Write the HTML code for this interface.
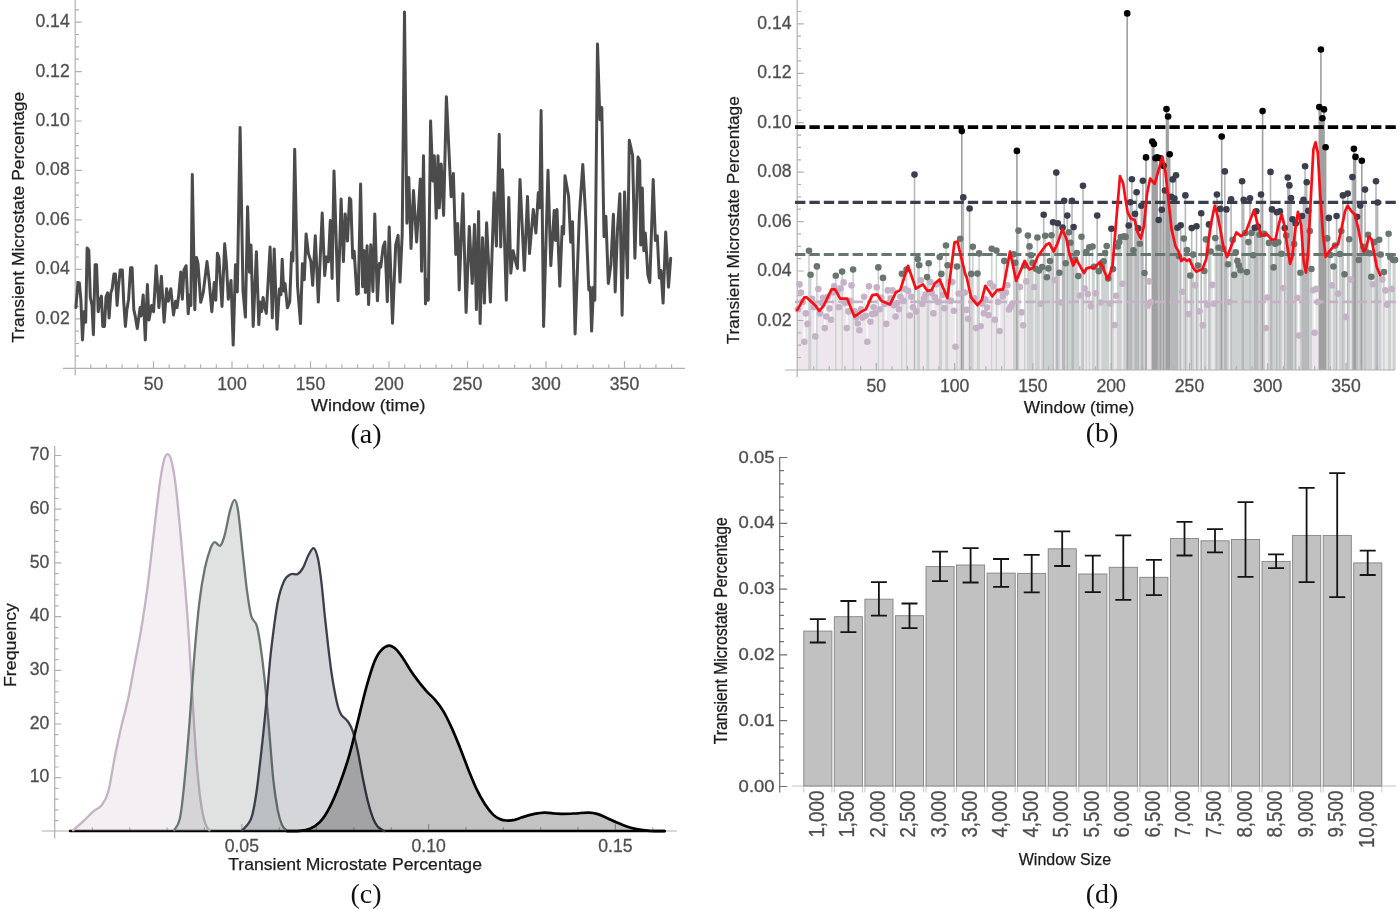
<!DOCTYPE html>
<html lang="en"><head><meta charset="utf-8"><title>Transient Microstate Percentage figure</title>
<style>html,body{margin:0;padding:0;background:#fff}body{width:1400px;height:909px;overflow:hidden}svg{display:block}text{font-family:"Liberation Sans", Arial, Helvetica, sans-serif}.t{fill:#4f4f4f;font-size:17.6px;stroke:#4f4f4f;stroke-width:.3px}.l{fill:#1c1c1c;font-size:17.4px;stroke:#1c1c1c;stroke-width:.25px}.cap{font-family:"Liberation Serif", "Times New Roman", serif;font-size:28px;fill:#111}</style></head><body>
<svg width="1400" height="909" viewBox="0 0 1400 909">
<rect width="1400" height="909" fill="#fff"/>
<g id="panel-a">
<g stroke="#b0b0b0" stroke-width="1.2" fill="none">
<line x1="63" y1="368.3" x2="685" y2="368.3"/>
<line x1="75.2" y1="0" x2="75.2" y2="375.5"/>
<path d="M75.2 355.8h3.8M75.2 343.5h3.8M75.2 331.1h3.8M75.2 318.8h6.5M75.2 306.4h3.8M75.2 294h3.8M75.2 281.7h3.8M75.2 269.3h6.5M75.2 257h3.8M75.2 244.6h3.8M75.2 232.2h3.8M75.2 219.9h6.5M75.2 207.5h3.8M75.2 195.2h3.8M75.2 182.8h3.8M75.2 170.4h6.5M75.2 158.1h3.8M75.2 145.7h3.8M75.2 133.4h3.8M75.2 121h6.5M75.2 108.6h3.8M75.2 96.3h3.8M75.2 83.9h3.8M75.2 71.6h6.5M75.2 59.2h3.8M75.2 46.8h3.8M75.2 34.5h3.8M75.2 22.1h6.5M75.2 9.8h3.8M90.7 368.3v-3.8M106.4 368.3v-3.8M122.1 368.3v-3.8M137.8 368.3v-3.8M153.5 368.3v-7M169.2 368.3v-3.8M184.9 368.3v-3.8M200.6 368.3v-3.8M216.3 368.3v-3.8M232 368.3v-7M247.7 368.3v-3.8M263.4 368.3v-3.8M279.1 368.3v-3.8M294.8 368.3v-3.8M310.5 368.3v-7M326.2 368.3v-3.8M341.9 368.3v-3.8M357.6 368.3v-3.8M373.3 368.3v-3.8M389 368.3v-7M404.7 368.3v-3.8M420.4 368.3v-3.8M436.1 368.3v-3.8M451.8 368.3v-3.8M467.5 368.3v-7M483.2 368.3v-3.8M498.9 368.3v-3.8M514.6 368.3v-3.8M530.3 368.3v-3.8M546 368.3v-7M561.7 368.3v-3.8M577.4 368.3v-3.8M593.1 368.3v-3.8M608.8 368.3v-3.8M624.5 368.3v-7M640.2 368.3v-3.8M655.9 368.3v-3.8M671.6 368.3v-3.8"/>
</g>
<g class="t" text-anchor="end">
<text x="69.7" y="323.8">0.02</text>
<text x="69.7" y="274.3">0.04</text>
<text x="69.7" y="224.9">0.06</text>
<text x="69.7" y="175.4">0.08</text>
<text x="69.7" y="126">0.10</text>
<text x="69.7" y="76.6">0.12</text>
<text x="69.7" y="27.1">0.14</text>
</g>
<g class="t" text-anchor="middle">
<text x="153.5" y="390">50</text>
<text x="232" y="390">100</text>
<text x="310.5" y="390">150</text>
<text x="389" y="390">200</text>
<text x="467.5" y="390">250</text>
<text x="546" y="390">300</text>
<text x="624.5" y="390">350</text>
</g>
<polyline fill="none" stroke="#4b4b4b" stroke-width="3.0" stroke-linejoin="round" stroke-linecap="round" points="75.9,307.6 77.9,282.5 79.4,282.9 80.9,300.2 82.5,340 84,311.7 85.7,322.2 87.1,248 88.8,250.1 90.3,297.1 92,305.5 93.4,334.7 95.1,264.7 96.6,264.7 98.2,311.7 99.7,301.3 101.4,296.1 102.8,326.4 104.5,326.4 106,297.1 107.6,292.9 109.1,318 110.8,292.9 112.2,288.7 113.9,274.1 115.4,274.1 117.1,305.5 118.5,286.6 120.2,269.9 122.3,269.9 123.7,301.3 125.4,326.4 126.9,309.7 128.6,299.2 130.6,267.8 132.1,267.8 133.8,309.7 135.2,315.9 137.3,328.5 140.1,307.6 141.1,315.9 143.2,295 145.3,340 147.4,284.6 149,320.1 151.6,305.5 153.6,311.7 156.2,265.7 158.9,307.6 161.4,276.2 164.1,322.2 166.6,288.7 168.3,301.3 170.8,288.7 173.5,314.9 175.6,301.3 177.1,307.6 178.7,295 180.8,272 182.3,299.2 184,269.9 186.1,265.7 188.2,313.8 189.6,295 190.9,305.5 192.3,174.6 194.8,309.7 196.5,257.4 198,263.6 200.7,302.3 203.2,292.9 207,261.6 209.1,280.4 211.8,311.7 214.3,282.5 215.8,300.2 217.4,253.2 218.9,257.4 222,306.5 224.7,243.8 226.4,263.6 228.3,299.2 231,280.4 233.2,345.1 235.5,264.8 237.3,291.9 240.1,127.4 243,290.9 245.4,317.1 247.6,206.8 249.5,272.2 251,245.1 253.2,326.4 256.4,251.7 258.8,324.6 260.1,302.1 261.6,311.5 263.1,297.5 264.4,305.9 266.3,313.4 270.1,247 272.3,318 274.2,248.9 277,329.3 279.4,289.1 280.9,294.7 282.2,259.2 283.7,290.9 285,283.5 287.4,307.8 289.7,302.1 291.6,252.6 292.9,261 294.7,149.3 297.5,285.3 300.5,323.6 302.4,263.8 304.3,279.7 306.1,233.9 308.4,253.6 310.8,261 312.7,285.3 315.3,235.8 318.3,302.1 322.2,213 324.7,275.6 326.5,256.9 328.4,261.6 330.3,220.5 332.1,278.4 334,170.9 338.1,300.8 341.1,199 343.4,261.6 345.2,213.9 347.5,241 349.5,198 350.8,199.9 352.7,257.9 354.2,251.3 356.8,294.3 358.3,293.4 360.6,184 362.6,286.8 363.9,250.4 365.4,292.4 367.1,245.7 368.6,304.6 370.8,244.8 372.9,291.5 374.8,213.9 377.4,300.8 379.4,263.5 380.7,267.2 383.2,246.6 384.9,242 387.3,301.8 389.2,227 392.5,323.3 395.7,244.8 398.1,235.4 400,282.1 402.2,234.5 404.5,12.1 406.9,223.3 408.8,177.5 411,248.5 413.5,190.6 416.6,242 420.3,179.1 421.6,271.3 423.5,155.7 425.5,304 426.8,279.7 428.3,300.3 430.6,121.1 432.8,180.9 434.3,155.7 436.2,218.3 438,155.7 439.3,208 441.2,164.1 443.6,215.5 446.4,96.8 451.1,196.8 453.4,173.5 455.8,254.5 457.7,223.6 459.2,290 462.9,193.7 466.1,312.4 469.3,226.4 472.2,283.5 474.5,224.6 476.4,309.6 478.6,211.5 480.1,323.6 482.5,237.7 484.4,303.1 486.6,222.7 490.4,302.1 494.1,192.8 496.4,246.1 499.2,134.2 500.7,247 502.5,169.7 506.3,300.3 508.8,197.5 510.8,273.2 513.1,250.7 515,259.2 517.4,268.5 520,179.5 524.3,270.4 527.5,196.5 529.5,253.6 533.3,209.6 535.9,233 538.3,192.8 539.8,207.8 541.1,110.4 543.6,326.4 548,170.2 550.8,265.7 554.2,210.6 555.5,240.5 557,209.6 559.8,286.3 562.2,226.4 563.6,233.9 565,175.8 568.6,196.4 570.7,242.3 572.5,221.8 575.1,333.9 579.4,214.3 582.8,164.6 586.4,229.3 588.8,290 590.3,287.2 591.6,331.1 593.5,287.2 594.8,300.3 597.5,44 599.9,119.7 601.8,107.6 604,236.7 605.9,216.2 608.3,283.5 610.9,264.8 613.4,214.3 615.2,291.9 617.5,229.3 619.9,193.7 622.1,315.2 624.6,191.9 627.4,277.9 629.3,140.3 632.6,155.2 634.9,258.2 638,157.1 639.7,160.8 640.7,245.1 642.3,187.9 643.8,250.7 645.3,233 647.9,275 649.8,282.5 653.2,179.5 655.4,240.5 657.3,235.8 659.3,277.9 661,270.4 663.1,303.1 665.7,232.1 668.5,287.2 670.7,258.2"/>
<text class="l" text-anchor="middle" transform="translate(23.8 217.3) rotate(-90)" textLength="251" lengthAdjust="spacingAndGlyphs">Transient Microstate Percentage</text>
<text class="l" text-anchor="middle" x="368.2" y="411.1" textLength="114.3" lengthAdjust="spacingAndGlyphs">Window (time)</text>
<text class="cap" text-anchor="middle" x="366" y="442.6">(a)</text>
</g>
<g id="panel-b">
<path d="M798 369.9V309.3M799.5 369.9V284.4M801.1 369.9V292.6M802.7 369.9V301.9M804.3 369.9V341.7M805.9 369.9V313.4M807.4 369.9V323.9M812.1 369.9V298.8M813.7 369.9V307.2M815.3 369.9V336.4M818.4 369.9V289M820 369.9V313.4M821.6 369.9V303M823.2 369.9V297.8M824.8 369.9V328.1M826.3 369.9V316.5M827.9 369.9V296.7M829.5 369.9V308.4M831 369.9V319.7M832.6 369.9V292.5M834.2 369.9V286.3M837.4 369.9V291.1M838.9 369.9V307.2M840.5 369.9V288.3M843.6 369.9V282.4M845.2 369.9V303M846.8 369.9V328.1M848.4 369.9V311.4M849.9 369.9V300.9M851.5 369.9V285.4M854.7 369.9V311.4M856.2 369.9V317.6M857.8 369.9V323.5M859.4 369.9V330.2M861 369.9V309.3M862.5 369.9V317.6M864.1 369.9V296.7M865.7 369.9V315.8M867.3 369.9V341.7M868.9 369.9V286.3M870.4 369.9V321.8M872 369.9V314.1M873.6 369.9V307.2M875.1 369.9V313.4M876.7 369.9V287.4M879.9 369.9V309.3M881.4 369.9V297.9M884.6 369.9V303.9M886.2 369.9V323.9M887.8 369.9V290.4M889.3 369.9V303M890.9 369.9V298.4M892.5 369.9V290.4M894 369.9V305.3M895.6 369.9V316.6M897.2 369.9V303M898.8 369.9V309.3M900.4 369.9V296.7M903.5 369.9V300.9M905.1 369.9V289M908.2 369.9V290.9M909.8 369.9V315.5M911.4 369.9V296.7M912.9 369.9V307.2M916.1 369.9V311.4M920.8 369.9V280.3M922.4 369.9V304M924 369.9V298.5M925.5 369.9V294.6M930.3 369.9V282.1M931.8 369.9V293.1M933.4 369.9V313.4M935 369.9V297.4M936.6 369.9V284.2M938.1 369.9V301.9M942.9 369.9V294.7M944.4 369.9V308.2M949.2 369.9V281.8M950.8 369.9V300.9M952.3 369.9V282.1M953.9 369.9V310.7M955.5 369.9V346.8M958.6 369.9V293.6M964.9 369.9V292.6M966.5 369.9V309.9M968.1 369.9V318.8M974.4 369.9V298.3M975.9 369.9V328.1M980.7 369.9V326.3M982.2 369.9V303.8M983.8 369.9V313.2M985.4 369.9V299.2M987 369.9V307.6M988.5 369.9V315.1M990.1 369.9V283.3M993.3 369.9V286.5M994.8 369.9V319.7M998 369.9V301.9M999.6 369.9V331M1001.1 369.9V290.8M1002.7 369.9V296.4M1005.9 369.9V292.6M1007.4 369.9V285.2M1009 369.9V309.5M1010.6 369.9V306.8M1012.2 369.9V303.8M1020 369.9V287M1021.6 369.9V312.4M1023.2 369.9V325.3M1026.3 369.9V281.4M1034.2 369.9V287M1040.5 369.9V303.8M1054.7 369.9V280.1M1061 369.9V302.5M1079.9 369.9V295.5M1084.6 369.9V288.5M1087.8 369.9V294.1M1090.9 369.9V306.3M1095.7 369.9V293.2M1100.4 369.9V302.5M1109.8 369.9V303.5M1114.5 369.9V325M1116.1 369.9V295.7M1122.4 369.9V283.8M1147.6 369.9V305.7M1149.2 369.9V281.4M1150.8 369.9V302M1182.3 369.9V291.7M1188.6 369.9V314.1M1194.9 369.9V285.2M1199.6 369.9V311.3M1202.8 369.9V325.3M1207.5 369.9V304.8M1212.2 369.9V284.9M1213.8 369.9V303.8M1229.5 369.9V302M1265.8 369.9V328.1M1267.3 369.9V297.5M1283.1 369.9V288M1297.2 369.9V297.9M1298.8 369.9V335.6M1313 369.9V290.3M1314.6 369.9V332.8M1316.2 369.9V288.9M1317.7 369.9V302M1331.9 369.9V285.2M1338.2 369.9V293.6M1346.1 369.9V316.9M1350.8 369.9V279.6M1372.8 369.9V284.2M1382.3 369.9V279.6M1385.4 369.9V290.4M1387 369.9V304.8M1391.8 369.9V288.9" stroke="#ede6ed" stroke-width="1.62" fill="none"/>
<path d="M809 369.9V250.7M810.6 369.9V274.7M816.9 369.9V266.4M835.8 369.9V275.8M842.1 369.9V271.6M853.1 369.9V269.5M878.3 369.9V267.4M883 369.9V277.9M901.9 369.9V273.7M906.6 369.9V269.5M917.7 369.9V259.1M919.2 369.9V265.3M927.1 369.9V277.1M928.7 369.9V263.3M939.7 369.9V257M941.3 369.9V273.9M946 369.9V245.5M947.6 369.9V265.3M957 369.9V266.5M960.2 369.9V238.8M971.2 369.9V273.9M972.8 369.9V246.8M977.5 369.9V273.6M979.1 369.9V253.4M991.7 369.9V248.7M996.4 369.9V250.6M1004.3 369.9V260.9M1013.8 369.9V254.3M1015.3 369.9V262.7M1018.5 369.9V230.6M1024.8 369.9V265.5M1027.9 369.9V235.6M1029.5 369.9V246.4M1031.1 369.9V255.3M1032.7 369.9V262.7M1035.8 369.9V268.7M1037.4 369.9V237.5M1039 369.9V270.6M1042.1 369.9V267M1045.2 369.9V235.7M1046.8 369.9V277.3M1048.4 369.9V268.4M1050 369.9V261M1051.5 369.9V235.2M1059.4 369.9V272.8M1065.7 369.9V263.3M1068.9 369.9V232.3M1070.5 369.9V242.7M1075.2 369.9V259.6M1076.8 369.9V253M1078.3 369.9V276.1M1081.5 369.9V236.8M1086.2 369.9V252.1M1089.3 369.9V247.4M1092.5 369.9V246.5M1094.1 369.9V266.7M1098.8 369.9V271.2M1102 369.9V267M1103.5 369.9V261.4M1105.1 369.9V253M1106.7 369.9V246M1108.2 369.9V278.4M1113 369.9V269.1M1117.7 369.9V246.5M1119.3 369.9V242M1120.8 369.9V237.1M1124 369.9V236.2M1125.6 369.9V236.9M1133.5 369.9V250.2M1139.8 369.9V243.7M1144.5 369.9V273M1179.1 369.9V256.2M1183.8 369.9V238.6M1187 369.9V250.1M1190.2 369.9V275.6M1193.3 369.9V254.6M1198 369.9V265.6M1204.3 369.9V271M1205.9 369.9V239.4M1210.6 369.9V251.5M1215.3 369.9V238.1M1218.5 369.9V247.8M1223.2 369.9V248.7M1228 369.9V264.2M1232.7 369.9V239.9M1234.2 369.9V274.9M1235.8 369.9V252.4M1237.4 369.9V260.9M1239 369.9V265.5M1240.5 369.9V270.2M1245.3 369.9V233M1246.8 369.9V272.1M1248.4 369.9V242.1M1251.6 369.9V233M1253.2 369.9V255.3M1259.5 369.9V234.7M1264.2 369.9V233.9M1268.9 369.9V242.9M1273.6 369.9V267.4M1275.2 369.9V243.8M1278.3 369.9V242.2M1281.5 369.9V253.7M1286.2 369.9V235.6M1294.1 369.9V244M1300.4 369.9V272.7M1309.8 369.9V231M1311.4 369.9V269M1327.2 369.9V238.4M1330.3 369.9V255M1333.5 369.9V266.5M1335 369.9V245.6M1339.8 369.9V254M1341.3 369.9V231M1344.5 369.9V274.2M1349.2 369.9V239.3M1358.7 369.9V259.9M1363.4 369.9V246.8M1366.5 369.9V252.4M1368.1 369.9V234.7M1369.7 369.9V253.2M1371.3 369.9V276.7M1374.4 369.9V242.1M1379.2 369.9V239.8M1380.7 369.9V254.6M1383.9 369.9V272.1M1388.6 369.9V233.8M1390.2 369.9V257.1M1393.3 369.9V259.9M1394.9 369.9V259.9" stroke="#ccd2cf" stroke-width="1.62" fill="none"/>
<path d="M914.5 369.9V174.6M963.3 369.9V197.4M969.6 369.9V208.5M1043.7 369.9V214.7M1053.1 369.9V222.2M1056.3 369.9V172.6M1057.8 369.9V223.2M1062.6 369.9V227.6M1064.2 369.9V200.7M1067.3 369.9V215.6M1072 369.9V200.7M1073.6 369.9V227.1M1083 369.9V185.7M1097.2 369.9V215.6M1111.4 369.9V228.7M1128.7 369.9V225.5M1130.3 369.9V202.3M1131.9 369.9V179.2M1135 369.9V213.9M1136.6 369.9V192.3M1138.2 369.9V228.4M1141.3 369.9V205.8M1142.9 369.9V180.8M1158.7 369.9V220M1161.8 369.9V209.7M1165 369.9V190.5M1171.2 369.9V196.9M1172.8 369.9V179.4M1174.4 369.9V198.5M1176 369.9V175.2M1177.5 369.9V227.7M1180.7 369.9V225.3M1185.4 369.9V195.4M1191.7 369.9V228.1M1196.5 369.9V226.3M1201.2 369.9V213.2M1209 369.9V224.4M1216.9 369.9V194.5M1220.1 369.9V208.9M1224.8 369.9V171.4M1226.4 369.9V209.4M1231.1 369.9V199.2M1242.1 369.9V181.2M1243.7 369.9V199.8M1250 369.9V198.2M1254.7 369.9V227.8M1256.3 369.9V211.3M1257.9 369.9V226.9M1261 369.9V194.5M1270.5 369.9V171.9M1272 369.9V209.4M1276.8 369.9V212.3M1279.9 369.9V211.3M1284.7 369.9V228.1M1287.8 369.9V177.5M1289.4 369.9V185.4M1291 369.9V198.1M1292.5 369.9V219.3M1295.7 369.9V223.5M1302 369.9V216M1303.5 369.9V199.7M1305.1 369.9V166.3M1306.7 369.9V182.2M1308.3 369.9V210.8M1328.8 369.9V217.9M1336.6 369.9V216M1342.9 369.9V195.4M1347.7 369.9V193.6M1352.4 369.9V177.1M1357.1 369.9V216.8M1360.2 369.9V205.6M1365 369.9V189.6M1376 369.9V181.2M1377.6 369.9V202.5" stroke="#b7b8bc" stroke-width="1.62" fill="none"/>
<path d="M961.8 369.9V131.1M1016.9 369.9V150.9M1127.2 369.9V13.4M1146 369.9V157.4M1152.3 369.9V141.5M1153.9 369.9V144M1155.5 369.9V158.3M1157.1 369.9V157.4M1160.2 369.9V158.3M1163.4 369.9V165.8M1166.5 369.9V109.1M1168.1 369.9V116.5M1169.7 369.9V154.3M1221.7 369.9V136.5M1262.6 369.9V111.1M1319.3 369.9V107.1M1320.9 369.9V49.5M1322.4 369.9V118.3M1324 369.9V109.4M1325.6 369.9V147.2M1353.9 369.9V148.8M1355.5 369.9V156.9M1361.8 369.9V160.7" stroke="#a0a0a0" stroke-width="1.62" fill="none"/>
<g stroke="#b0b0b0" stroke-width="1.2" fill="none">
<line x1="785" y1="370" x2="1395" y2="370"/>
<line x1="797.2" y1="0" x2="797.2" y2="377"/>
<path d="M797.2 357.5h3.8M797.2 345.2h3.8M797.2 332.8h3.8M797.2 320.5h6.5M797.2 308.1h3.8M797.2 295.7h3.8M797.2 283.4h3.8M797.2 271h6.5M797.2 258.7h3.8M797.2 246.3h3.8M797.2 233.9h3.8M797.2 221.6h6.5M797.2 209.2h3.8M797.2 196.9h3.8M797.2 184.5h3.8M797.2 172.1h6.5M797.2 159.8h3.8M797.2 147.4h3.8M797.2 135.1h3.8M797.2 122.7h6.5M797.2 110.3h3.8M797.2 98h3.8M797.2 85.6h3.8M797.2 73.3h6.5M797.2 60.9h3.8M797.2 48.5h3.8M797.2 36.2h3.8M797.2 23.8h6.5M797.2 11.5h3.8M813.7 370v-3.8M829.3 370v-3.8M845 370v-3.8M860.6 370v-3.8M876.3 370v-7M891.9 370v-3.8M907.6 370v-3.8M923.3 370v-3.8M938.9 370v-3.8M954.6 370v-7M970.2 370v-3.8M985.9 370v-3.8M1001.6 370v-3.8M1017.2 370v-3.8M1032.9 370v-7M1048.5 370v-3.8M1064.2 370v-3.8M1079.8 370v-3.8M1095.5 370v-3.8M1111.2 370v-7M1126.8 370v-3.8M1142.5 370v-3.8M1158.1 370v-3.8M1173.8 370v-3.8M1189.5 370v-7M1205.1 370v-3.8M1220.8 370v-3.8M1236.4 370v-3.8M1252.1 370v-3.8M1267.7 370v-7M1283.4 370v-3.8M1299.1 370v-3.8M1314.7 370v-3.8M1330.4 370v-3.8M1346 370v-7M1361.7 370v-3.8M1377.3 370v-3.8"/>
</g>
<g class="t" text-anchor="end">
<text x="791.5" y="325.5">0.02</text>
<text x="791.5" y="276">0.04</text>
<text x="791.5" y="226.6">0.06</text>
<text x="791.5" y="177.1">0.08</text>
<text x="791.5" y="127.7">0.10</text>
<text x="791.5" y="78.3">0.12</text>
<text x="791.5" y="28.8">0.14</text>
</g>
<g class="t" text-anchor="middle">
<text x="876.3" y="391.5">50</text>
<text x="954.6" y="391.5">100</text>
<text x="1032.9" y="391.5">150</text>
<text x="1111.2" y="391.5">200</text>
<text x="1189.5" y="391.5">250</text>
<text x="1267.7" y="391.5">300</text>
<text x="1346" y="391.5">350</text>
</g>
<line x1="795" y1="301.9" x2="1396" y2="301.9" stroke="#c5b2c6" stroke-width="2.8" stroke-dasharray="10.4 4"/>
<line x1="795" y1="254.5" x2="1396" y2="254.5" stroke="#69766f" stroke-width="3.0" stroke-dasharray="10.4 4"/>
<line x1="795" y1="202.3" x2="1396" y2="202.3" stroke="#3b3f4d" stroke-width="3.2" stroke-dasharray="10.4 4"/>
<line x1="795" y1="127.1" x2="1396" y2="127.1" stroke="#000000" stroke-width="3.9" stroke-dasharray="10.4 4"/>
<g fill="#c5b2c6"><circle cx="798" cy="309.3" r="3.3"/><circle cx="799.5" cy="284.4" r="3.3"/><circle cx="801.1" cy="292.6" r="3.3"/><circle cx="802.7" cy="301.9" r="3.3"/><circle cx="804.3" cy="341.7" r="3.3"/><circle cx="805.9" cy="313.4" r="3.3"/><circle cx="807.4" cy="323.9" r="3.3"/><circle cx="812.1" cy="298.8" r="3.3"/><circle cx="813.7" cy="307.2" r="3.3"/><circle cx="815.3" cy="336.4" r="3.3"/><circle cx="818.4" cy="289" r="3.3"/><circle cx="820" cy="313.4" r="3.3"/><circle cx="821.6" cy="303" r="3.3"/><circle cx="823.2" cy="297.8" r="3.3"/><circle cx="824.8" cy="328.1" r="3.3"/><circle cx="826.3" cy="316.5" r="3.3"/><circle cx="827.9" cy="296.7" r="3.3"/><circle cx="829.5" cy="308.4" r="3.3"/><circle cx="831" cy="319.7" r="3.3"/><circle cx="832.6" cy="292.5" r="3.3"/><circle cx="834.2" cy="286.3" r="3.3"/><circle cx="837.4" cy="291.1" r="3.3"/><circle cx="838.9" cy="307.2" r="3.3"/><circle cx="840.5" cy="288.3" r="3.3"/><circle cx="843.6" cy="282.4" r="3.3"/><circle cx="845.2" cy="303" r="3.3"/><circle cx="846.8" cy="328.1" r="3.3"/><circle cx="848.4" cy="311.4" r="3.3"/><circle cx="849.9" cy="300.9" r="3.3"/><circle cx="851.5" cy="285.4" r="3.3"/><circle cx="854.7" cy="311.4" r="3.3"/><circle cx="856.2" cy="317.6" r="3.3"/><circle cx="857.8" cy="323.5" r="3.3"/><circle cx="859.4" cy="330.2" r="3.3"/><circle cx="861" cy="309.3" r="3.3"/><circle cx="862.5" cy="317.6" r="3.3"/><circle cx="864.1" cy="296.7" r="3.3"/><circle cx="865.7" cy="315.8" r="3.3"/><circle cx="867.3" cy="341.7" r="3.3"/><circle cx="868.9" cy="286.3" r="3.3"/><circle cx="870.4" cy="321.8" r="3.3"/><circle cx="872" cy="314.1" r="3.3"/><circle cx="873.6" cy="307.2" r="3.3"/><circle cx="875.1" cy="313.4" r="3.3"/><circle cx="876.7" cy="287.4" r="3.3"/><circle cx="879.9" cy="309.3" r="3.3"/><circle cx="881.4" cy="297.9" r="3.3"/><circle cx="884.6" cy="303.9" r="3.3"/><circle cx="886.2" cy="323.9" r="3.3"/><circle cx="887.8" cy="290.4" r="3.3"/><circle cx="889.3" cy="303" r="3.3"/><circle cx="890.9" cy="298.4" r="3.3"/><circle cx="892.5" cy="290.4" r="3.3"/><circle cx="894" cy="305.3" r="3.3"/><circle cx="895.6" cy="316.6" r="3.3"/><circle cx="897.2" cy="303" r="3.3"/><circle cx="898.8" cy="309.3" r="3.3"/><circle cx="900.4" cy="296.7" r="3.3"/><circle cx="903.5" cy="300.9" r="3.3"/><circle cx="905.1" cy="289" r="3.3"/><circle cx="908.2" cy="290.9" r="3.3"/><circle cx="909.8" cy="315.5" r="3.3"/><circle cx="911.4" cy="296.7" r="3.3"/><circle cx="912.9" cy="307.2" r="3.3"/><circle cx="916.1" cy="311.4" r="3.3"/><circle cx="920.8" cy="280.3" r="3.3"/><circle cx="922.4" cy="304" r="3.3"/><circle cx="924" cy="298.5" r="3.3"/><circle cx="925.5" cy="294.6" r="3.3"/><circle cx="930.3" cy="282.1" r="3.3"/><circle cx="931.8" cy="293.1" r="3.3"/><circle cx="933.4" cy="313.4" r="3.3"/><circle cx="935" cy="297.4" r="3.3"/><circle cx="936.6" cy="284.2" r="3.3"/><circle cx="938.1" cy="301.9" r="3.3"/><circle cx="942.9" cy="294.7" r="3.3"/><circle cx="944.4" cy="308.2" r="3.3"/><circle cx="949.2" cy="281.8" r="3.3"/><circle cx="950.8" cy="300.9" r="3.3"/><circle cx="952.3" cy="282.1" r="3.3"/><circle cx="953.9" cy="310.7" r="3.3"/><circle cx="955.5" cy="346.8" r="3.3"/><circle cx="958.6" cy="293.6" r="3.3"/><circle cx="964.9" cy="292.6" r="3.3"/><circle cx="966.5" cy="309.9" r="3.3"/><circle cx="968.1" cy="318.8" r="3.3"/><circle cx="974.4" cy="298.3" r="3.3"/><circle cx="975.9" cy="328.1" r="3.3"/><circle cx="980.7" cy="326.3" r="3.3"/><circle cx="982.2" cy="303.8" r="3.3"/><circle cx="983.8" cy="313.2" r="3.3"/><circle cx="985.4" cy="299.2" r="3.3"/><circle cx="987" cy="307.6" r="3.3"/><circle cx="988.5" cy="315.1" r="3.3"/><circle cx="990.1" cy="283.3" r="3.3"/><circle cx="993.3" cy="286.5" r="3.3"/><circle cx="994.8" cy="319.7" r="3.3"/><circle cx="998" cy="301.9" r="3.3"/><circle cx="999.6" cy="331" r="3.3"/><circle cx="1001.1" cy="290.8" r="3.3"/><circle cx="1002.7" cy="296.4" r="3.3"/><circle cx="1005.9" cy="292.6" r="3.3"/><circle cx="1007.4" cy="285.2" r="3.3"/><circle cx="1009" cy="309.5" r="3.3"/><circle cx="1010.6" cy="306.8" r="3.3"/><circle cx="1012.2" cy="303.8" r="3.3"/><circle cx="1020" cy="287" r="3.3"/><circle cx="1021.6" cy="312.4" r="3.3"/><circle cx="1023.2" cy="325.3" r="3.3"/><circle cx="1026.3" cy="281.4" r="3.3"/><circle cx="1034.2" cy="287" r="3.3"/><circle cx="1040.5" cy="303.8" r="3.3"/><circle cx="1054.7" cy="280.1" r="3.3"/><circle cx="1061" cy="302.5" r="3.3"/><circle cx="1079.9" cy="295.5" r="3.3"/><circle cx="1084.6" cy="288.5" r="3.3"/><circle cx="1087.8" cy="294.1" r="3.3"/><circle cx="1090.9" cy="306.3" r="3.3"/><circle cx="1095.7" cy="293.2" r="3.3"/><circle cx="1100.4" cy="302.5" r="3.3"/><circle cx="1109.8" cy="303.5" r="3.3"/><circle cx="1114.5" cy="325" r="3.3"/><circle cx="1116.1" cy="295.7" r="3.3"/><circle cx="1122.4" cy="283.8" r="3.3"/><circle cx="1147.6" cy="305.7" r="3.3"/><circle cx="1149.2" cy="281.4" r="3.3"/><circle cx="1150.8" cy="302" r="3.3"/><circle cx="1182.3" cy="291.7" r="3.3"/><circle cx="1188.6" cy="314.1" r="3.3"/><circle cx="1194.9" cy="285.2" r="3.3"/><circle cx="1199.6" cy="311.3" r="3.3"/><circle cx="1202.8" cy="325.3" r="3.3"/><circle cx="1207.5" cy="304.8" r="3.3"/><circle cx="1212.2" cy="284.9" r="3.3"/><circle cx="1213.8" cy="303.8" r="3.3"/><circle cx="1229.5" cy="302" r="3.3"/><circle cx="1265.8" cy="328.1" r="3.3"/><circle cx="1267.3" cy="297.5" r="3.3"/><circle cx="1283.1" cy="288" r="3.3"/><circle cx="1297.2" cy="297.9" r="3.3"/><circle cx="1298.8" cy="335.6" r="3.3"/><circle cx="1313" cy="290.3" r="3.3"/><circle cx="1314.6" cy="332.8" r="3.3"/><circle cx="1316.2" cy="288.9" r="3.3"/><circle cx="1317.7" cy="302" r="3.3"/><circle cx="1331.9" cy="285.2" r="3.3"/><circle cx="1338.2" cy="293.6" r="3.3"/><circle cx="1346.1" cy="316.9" r="3.3"/><circle cx="1350.8" cy="279.6" r="3.3"/><circle cx="1372.8" cy="284.2" r="3.3"/><circle cx="1382.3" cy="279.6" r="3.3"/><circle cx="1385.4" cy="290.4" r="3.3"/><circle cx="1387" cy="304.8" r="3.3"/><circle cx="1391.8" cy="288.9" r="3.3"/></g>
<g fill="#69766f"><circle cx="809" cy="250.7" r="3.3"/><circle cx="810.6" cy="274.7" r="3.3"/><circle cx="816.9" cy="266.4" r="3.3"/><circle cx="835.8" cy="275.8" r="3.3"/><circle cx="842.1" cy="271.6" r="3.3"/><circle cx="853.1" cy="269.5" r="3.3"/><circle cx="878.3" cy="267.4" r="3.3"/><circle cx="883" cy="277.9" r="3.3"/><circle cx="901.9" cy="273.7" r="3.3"/><circle cx="906.6" cy="269.5" r="3.3"/><circle cx="917.7" cy="259.1" r="3.3"/><circle cx="919.2" cy="265.3" r="3.3"/><circle cx="927.1" cy="277.1" r="3.3"/><circle cx="928.7" cy="263.3" r="3.3"/><circle cx="939.7" cy="257" r="3.3"/><circle cx="941.3" cy="273.9" r="3.3"/><circle cx="946" cy="245.5" r="3.3"/><circle cx="947.6" cy="265.3" r="3.3"/><circle cx="957" cy="266.5" r="3.3"/><circle cx="960.2" cy="238.8" r="3.3"/><circle cx="971.2" cy="273.9" r="3.3"/><circle cx="972.8" cy="246.8" r="3.3"/><circle cx="977.5" cy="273.6" r="3.3"/><circle cx="979.1" cy="253.4" r="3.3"/><circle cx="991.7" cy="248.7" r="3.3"/><circle cx="996.4" cy="250.6" r="3.3"/><circle cx="1004.3" cy="260.9" r="3.3"/><circle cx="1013.8" cy="254.3" r="3.3"/><circle cx="1015.3" cy="262.7" r="3.3"/><circle cx="1018.5" cy="230.6" r="3.3"/><circle cx="1024.8" cy="265.5" r="3.3"/><circle cx="1027.9" cy="235.6" r="3.3"/><circle cx="1029.5" cy="246.4" r="3.3"/><circle cx="1031.1" cy="255.3" r="3.3"/><circle cx="1032.7" cy="262.7" r="3.3"/><circle cx="1035.8" cy="268.7" r="3.3"/><circle cx="1037.4" cy="237.5" r="3.3"/><circle cx="1039" cy="270.6" r="3.3"/><circle cx="1042.1" cy="267" r="3.3"/><circle cx="1045.2" cy="235.7" r="3.3"/><circle cx="1046.8" cy="277.3" r="3.3"/><circle cx="1048.4" cy="268.4" r="3.3"/><circle cx="1050" cy="261" r="3.3"/><circle cx="1051.5" cy="235.2" r="3.3"/><circle cx="1059.4" cy="272.8" r="3.3"/><circle cx="1065.7" cy="263.3" r="3.3"/><circle cx="1068.9" cy="232.3" r="3.3"/><circle cx="1070.5" cy="242.7" r="3.3"/><circle cx="1075.2" cy="259.6" r="3.3"/><circle cx="1076.8" cy="253" r="3.3"/><circle cx="1078.3" cy="276.1" r="3.3"/><circle cx="1081.5" cy="236.8" r="3.3"/><circle cx="1086.2" cy="252.1" r="3.3"/><circle cx="1089.3" cy="247.4" r="3.3"/><circle cx="1092.5" cy="246.5" r="3.3"/><circle cx="1094.1" cy="266.7" r="3.3"/><circle cx="1098.8" cy="271.2" r="3.3"/><circle cx="1102" cy="267" r="3.3"/><circle cx="1103.5" cy="261.4" r="3.3"/><circle cx="1105.1" cy="253" r="3.3"/><circle cx="1106.7" cy="246" r="3.3"/><circle cx="1108.2" cy="278.4" r="3.3"/><circle cx="1113" cy="269.1" r="3.3"/><circle cx="1117.7" cy="246.5" r="3.3"/><circle cx="1119.3" cy="242" r="3.3"/><circle cx="1120.8" cy="237.1" r="3.3"/><circle cx="1124" cy="236.2" r="3.3"/><circle cx="1125.6" cy="236.9" r="3.3"/><circle cx="1133.5" cy="250.2" r="3.3"/><circle cx="1139.8" cy="243.7" r="3.3"/><circle cx="1144.5" cy="273" r="3.3"/><circle cx="1179.1" cy="256.2" r="3.3"/><circle cx="1183.8" cy="238.6" r="3.3"/><circle cx="1187" cy="250.1" r="3.3"/><circle cx="1190.2" cy="275.6" r="3.3"/><circle cx="1193.3" cy="254.6" r="3.3"/><circle cx="1198" cy="265.6" r="3.3"/><circle cx="1204.3" cy="271" r="3.3"/><circle cx="1205.9" cy="239.4" r="3.3"/><circle cx="1210.6" cy="251.5" r="3.3"/><circle cx="1215.3" cy="238.1" r="3.3"/><circle cx="1218.5" cy="247.8" r="3.3"/><circle cx="1223.2" cy="248.7" r="3.3"/><circle cx="1228" cy="264.2" r="3.3"/><circle cx="1232.7" cy="239.9" r="3.3"/><circle cx="1234.2" cy="274.9" r="3.3"/><circle cx="1235.8" cy="252.4" r="3.3"/><circle cx="1237.4" cy="260.9" r="3.3"/><circle cx="1239" cy="265.5" r="3.3"/><circle cx="1240.5" cy="270.2" r="3.3"/><circle cx="1245.3" cy="233" r="3.3"/><circle cx="1246.8" cy="272.1" r="3.3"/><circle cx="1248.4" cy="242.1" r="3.3"/><circle cx="1251.6" cy="233" r="3.3"/><circle cx="1253.2" cy="255.3" r="3.3"/><circle cx="1259.5" cy="234.7" r="3.3"/><circle cx="1264.2" cy="233.9" r="3.3"/><circle cx="1268.9" cy="242.9" r="3.3"/><circle cx="1273.6" cy="267.4" r="3.3"/><circle cx="1275.2" cy="243.8" r="3.3"/><circle cx="1278.3" cy="242.2" r="3.3"/><circle cx="1281.5" cy="253.7" r="3.3"/><circle cx="1286.2" cy="235.6" r="3.3"/><circle cx="1294.1" cy="244" r="3.3"/><circle cx="1300.4" cy="272.7" r="3.3"/><circle cx="1309.8" cy="231" r="3.3"/><circle cx="1311.4" cy="269" r="3.3"/><circle cx="1327.2" cy="238.4" r="3.3"/><circle cx="1330.3" cy="255" r="3.3"/><circle cx="1333.5" cy="266.5" r="3.3"/><circle cx="1335" cy="245.6" r="3.3"/><circle cx="1339.8" cy="254" r="3.3"/><circle cx="1341.3" cy="231" r="3.3"/><circle cx="1344.5" cy="274.2" r="3.3"/><circle cx="1349.2" cy="239.3" r="3.3"/><circle cx="1358.7" cy="259.9" r="3.3"/><circle cx="1363.4" cy="246.8" r="3.3"/><circle cx="1366.5" cy="252.4" r="3.3"/><circle cx="1368.1" cy="234.7" r="3.3"/><circle cx="1369.7" cy="253.2" r="3.3"/><circle cx="1371.3" cy="276.7" r="3.3"/><circle cx="1374.4" cy="242.1" r="3.3"/><circle cx="1379.2" cy="239.8" r="3.3"/><circle cx="1380.7" cy="254.6" r="3.3"/><circle cx="1383.9" cy="272.1" r="3.3"/><circle cx="1388.6" cy="233.8" r="3.3"/><circle cx="1390.2" cy="257.1" r="3.3"/><circle cx="1393.3" cy="259.9" r="3.3"/><circle cx="1394.9" cy="259.9" r="3.3"/></g>
<g fill="#3b3f4d"><circle cx="914.5" cy="174.6" r="3.3"/><circle cx="963.3" cy="197.4" r="3.3"/><circle cx="969.6" cy="208.5" r="3.3"/><circle cx="1043.7" cy="214.7" r="3.3"/><circle cx="1053.1" cy="222.2" r="3.3"/><circle cx="1056.3" cy="172.6" r="3.3"/><circle cx="1057.8" cy="223.2" r="3.3"/><circle cx="1062.6" cy="227.6" r="3.3"/><circle cx="1064.2" cy="200.7" r="3.3"/><circle cx="1067.3" cy="215.6" r="3.3"/><circle cx="1072" cy="200.7" r="3.3"/><circle cx="1073.6" cy="227.1" r="3.3"/><circle cx="1083" cy="185.7" r="3.3"/><circle cx="1097.2" cy="215.6" r="3.3"/><circle cx="1111.4" cy="228.7" r="3.3"/><circle cx="1128.7" cy="225.5" r="3.3"/><circle cx="1130.3" cy="202.3" r="3.3"/><circle cx="1131.9" cy="179.2" r="3.3"/><circle cx="1135" cy="213.9" r="3.3"/><circle cx="1136.6" cy="192.3" r="3.3"/><circle cx="1138.2" cy="228.4" r="3.3"/><circle cx="1141.3" cy="205.8" r="3.3"/><circle cx="1142.9" cy="180.8" r="3.3"/><circle cx="1158.7" cy="220" r="3.3"/><circle cx="1161.8" cy="209.7" r="3.3"/><circle cx="1165" cy="190.5" r="3.3"/><circle cx="1171.2" cy="196.9" r="3.3"/><circle cx="1172.8" cy="179.4" r="3.3"/><circle cx="1174.4" cy="198.5" r="3.3"/><circle cx="1176" cy="175.2" r="3.3"/><circle cx="1177.5" cy="227.7" r="3.3"/><circle cx="1180.7" cy="225.3" r="3.3"/><circle cx="1185.4" cy="195.4" r="3.3"/><circle cx="1191.7" cy="228.1" r="3.3"/><circle cx="1196.5" cy="226.3" r="3.3"/><circle cx="1201.2" cy="213.2" r="3.3"/><circle cx="1209" cy="224.4" r="3.3"/><circle cx="1216.9" cy="194.5" r="3.3"/><circle cx="1220.1" cy="208.9" r="3.3"/><circle cx="1224.8" cy="171.4" r="3.3"/><circle cx="1226.4" cy="209.4" r="3.3"/><circle cx="1231.1" cy="199.2" r="3.3"/><circle cx="1242.1" cy="181.2" r="3.3"/><circle cx="1243.7" cy="199.8" r="3.3"/><circle cx="1250" cy="198.2" r="3.3"/><circle cx="1254.7" cy="227.8" r="3.3"/><circle cx="1256.3" cy="211.3" r="3.3"/><circle cx="1257.9" cy="226.9" r="3.3"/><circle cx="1261" cy="194.5" r="3.3"/><circle cx="1270.5" cy="171.9" r="3.3"/><circle cx="1272" cy="209.4" r="3.3"/><circle cx="1276.8" cy="212.3" r="3.3"/><circle cx="1279.9" cy="211.3" r="3.3"/><circle cx="1284.7" cy="228.1" r="3.3"/><circle cx="1287.8" cy="177.5" r="3.3"/><circle cx="1289.4" cy="185.4" r="3.3"/><circle cx="1291" cy="198.1" r="3.3"/><circle cx="1292.5" cy="219.3" r="3.3"/><circle cx="1295.7" cy="223.5" r="3.3"/><circle cx="1302" cy="216" r="3.3"/><circle cx="1303.5" cy="199.7" r="3.3"/><circle cx="1305.1" cy="166.3" r="3.3"/><circle cx="1306.7" cy="182.2" r="3.3"/><circle cx="1308.3" cy="210.8" r="3.3"/><circle cx="1328.8" cy="217.9" r="3.3"/><circle cx="1336.6" cy="216" r="3.3"/><circle cx="1342.9" cy="195.4" r="3.3"/><circle cx="1347.7" cy="193.6" r="3.3"/><circle cx="1352.4" cy="177.1" r="3.3"/><circle cx="1357.1" cy="216.8" r="3.3"/><circle cx="1360.2" cy="205.6" r="3.3"/><circle cx="1365" cy="189.6" r="3.3"/><circle cx="1376" cy="181.2" r="3.3"/><circle cx="1377.6" cy="202.5" r="3.3"/></g>
<g fill="#000000"><circle cx="961.8" cy="131.1" r="3.3"/><circle cx="1016.9" cy="150.9" r="3.3"/><circle cx="1127.2" cy="13.4" r="3.3"/><circle cx="1146" cy="157.4" r="3.3"/><circle cx="1152.3" cy="141.5" r="3.3"/><circle cx="1153.9" cy="144" r="3.3"/><circle cx="1155.5" cy="158.3" r="3.3"/><circle cx="1157.1" cy="157.4" r="3.3"/><circle cx="1160.2" cy="158.3" r="3.3"/><circle cx="1163.4" cy="165.8" r="3.3"/><circle cx="1166.5" cy="109.1" r="3.3"/><circle cx="1168.1" cy="116.5" r="3.3"/><circle cx="1169.7" cy="154.3" r="3.3"/><circle cx="1221.7" cy="136.5" r="3.3"/><circle cx="1262.6" cy="111.1" r="3.3"/><circle cx="1319.3" cy="107.1" r="3.3"/><circle cx="1320.9" cy="49.5" r="3.3"/><circle cx="1322.4" cy="118.3" r="3.3"/><circle cx="1324" cy="109.4" r="3.3"/><circle cx="1325.6" cy="147.2" r="3.3"/><circle cx="1353.9" cy="148.8" r="3.3"/><circle cx="1355.5" cy="156.9" r="3.3"/><circle cx="1361.8" cy="160.7" r="3.3"/></g>
<polyline fill="none" stroke="#fa0d14" stroke-width="2.7" stroke-linejoin="round" stroke-linecap="round" points="797.2,310.2 804.3,297.3 806.5,297.3 815.8,305.9 819.3,310.9 823.6,305.9 831.5,289.4 835.1,289.4 840.1,298.7 847.2,298.7 854.4,316.6 861.5,311.6 865.8,309.4 872.3,295.1 877.3,294.4 881.6,300.9 890.1,304.4 895.9,292.3 900.2,290.1 908,265.8 915.9,288.7 923,284.4 927.3,290.8 931.6,290.1 934.5,283.7 939.5,279.4 947.4,298 954.5,242.2 957.4,241.5 965.3,274.4 966.7,277.3 971,297.3 977.4,305.2 981.7,300.1 985.3,285.8 992.3,296.3 996.9,290.2 1003.1,289.4 1010,251.6 1016.2,280.9 1024.7,260.9 1029.3,269.4 1033.2,267.8 1037.8,256.3 1046.3,244.7 1049.3,243.2 1053.7,251.6 1057,244.7 1062.4,229.3 1066.3,238.6 1069.4,254 1073.2,265.5 1076.3,259.4 1084,273.2 1086.3,268.6 1090.9,267.1 1093.3,268.6 1100.2,261.7 1107.9,279.4 1112.5,266.3 1116.4,218.5 1119.4,183.1 1120,176.2 1123.1,183.1 1125.4,198.6 1127.7,212.4 1130.8,218.6 1134.7,220.1 1137.7,232.4 1140.8,238.6 1143.9,226.3 1147,193.9 1150.1,178.5 1154.7,183.9 1159.3,167.7 1162.4,156.9 1165.5,172.4 1168.6,201.6 1171.6,229.4 1175.5,246.3 1178.6,251.7 1181.2,261 1184,258.6 1187,261 1189.4,259.4 1193.2,267.9 1196.3,271.7 1199.4,270.2 1202.4,269.4 1206.3,258.6 1208.6,240.2 1211.7,220.1 1214.8,205.5 1217.9,217 1220.9,232.4 1223.3,246.3 1227.1,257.1 1231.7,244.8 1236.3,232.4 1241,236.3 1245.6,232.4 1250.2,220.1 1254.1,210.1 1257.9,225.1 1261.4,235.6 1266.7,233.9 1272,240 1275.5,239.2 1279,223.3 1281.7,214.5 1284.3,225.1 1287,244.4 1290.1,263.8 1292.3,256.8 1295.4,228.6 1297.9,211.9 1301.1,225.1 1303.7,262 1306,272.6 1308.1,253.2 1310.7,200.4 1313.4,149.4 1315.5,142.3 1317.8,152.9 1320.4,196.9 1323.1,235.6 1325.7,256.8 1329.2,251.5 1334.5,245.3 1338,244.4 1341.5,228.6 1345.1,211 1347.7,205.7 1351.2,211 1354.8,214.5 1358.3,228.6 1360.9,242.7 1363.6,251.5 1366.2,248 1368.8,236.5 1371.5,239.2 1374.1,253.2 1376.8,267.3 1380.3,275.2"/>
<text class="l" text-anchor="middle" transform="translate(738.6 220.3) rotate(-90)" textLength="248" lengthAdjust="spacingAndGlyphs">Transient Microstate Percentage</text>
<text class="l" text-anchor="middle" x="1078.9" y="412.6" textLength="110.5" lengthAdjust="spacingAndGlyphs">Window (time)</text>
<text class="cap" text-anchor="middle" x="1102" y="442">(b)</text>
</g>
<g id="panel-c">
<g stroke="#b0b0b0" stroke-width="1.2" fill="none"><line x1="42" y1="831" x2="677" y2="831"/><line x1="54.7" y1="446" x2="54.7" y2="838.5"/><path d="M54.7 820.7h3.8M54.7 809.9h3.8M54.7 799.2h3.8M54.7 788.4h3.8M54.7 777.7h6.5M54.7 767h3.8M54.7 756.2h3.8M54.7 745.5h3.8M54.7 734.7h3.8M54.7 724h6.5M54.7 713.3h3.8M54.7 702.5h3.8M54.7 691.8h3.8M54.7 681h3.8M54.7 670.3h6.5M54.7 659.6h3.8M54.7 648.8h3.8M54.7 638.1h3.8M54.7 627.3h3.8M54.7 616.6h6.5M54.7 605.9h3.8M54.7 595.1h3.8M54.7 584.4h3.8M54.7 573.6h3.8M54.7 562.9h6.5M54.7 552.2h3.8M54.7 541.4h3.8M54.7 530.7h3.8M54.7 519.9h3.8M54.7 509.2h6.5M54.7 498.5h3.8M54.7 487.7h3.8M54.7 477h3.8M54.7 466.2h3.8M54.7 455.5h6.5M92.4 831v-3.8M129.7 831v-3.8M167.1 831v-3.8M204.4 831v-3.8M241.8 831v-7M279.2 831v-3.8M316.5 831v-3.8M353.9 831v-3.8M391.2 831v-3.8M428.6 831v-7M466 831v-3.8M503.3 831v-3.8M540.7 831v-3.8M578 831v-3.8M615.4 831v-7M652.8 831v-3.8"/></g>
<line x1="70" y1="831" x2="664.5" y2="831" stroke="#000" stroke-width="2.4" stroke-linecap="round"/>
<path d="M73 830.3C74.8 828.7 80.7 823.7 84 820.6C87.3 817.6 89.9 814.4 92.8 811.8C95.7 809.3 99 808.5 101.6 805.2C104.2 801.9 106 800.1 108.2 792C110.4 784 112.6 767.8 114.8 756.8C117 745.8 119.2 735.6 121.4 726C123.6 716.5 125.8 709.9 128 699.6C130.2 689.4 132.4 676.2 134.6 664.4C136.8 652.7 139 642.4 141.2 629.2C143.4 616 145.6 602.1 147.8 585.2C150 568.3 152.4 544.9 154.4 528C156.4 511.1 158.1 495.4 159.7 484C161.3 472.6 162.8 464.8 164.1 459.8C165.4 454.8 166.4 454.1 167.6 454.1C168.8 454.1 169.8 454.8 171.1 459.8C172.5 464.8 173.9 471.2 175.5 484C177.1 496.8 178.8 514.8 180.8 536.8C182.8 558.8 185.6 591.1 187.4 616C189.2 641 190.3 663 191.8 686.4C193.3 709.9 194.7 737.8 196.2 756.8C197.7 775.9 199.1 789.8 200.6 800.8C202.1 811.8 203.5 817.9 205 822.8C206.5 827.8 208.7 829.1 209.4 830.3L209.4 831L73 831Z" fill="#c5b2c6" fill-opacity="0.21" stroke="none"/>
<path d="M73 830.3C74.8 828.7 80.7 823.7 84 820.6C87.3 817.6 89.9 814.4 92.8 811.8C95.7 809.3 99 808.5 101.6 805.2C104.2 801.9 106 800.1 108.2 792C110.4 784 112.6 767.8 114.8 756.8C117 745.8 119.2 735.6 121.4 726C123.6 716.5 125.8 709.9 128 699.6C130.2 689.4 132.4 676.2 134.6 664.4C136.8 652.7 139 642.4 141.2 629.2C143.4 616 145.6 602.1 147.8 585.2C150 568.3 152.4 544.9 154.4 528C156.4 511.1 158.1 495.4 159.7 484C161.3 472.6 162.8 464.8 164.1 459.8C165.4 454.8 166.4 454.1 167.6 454.1C168.8 454.1 169.8 454.8 171.1 459.8C172.5 464.8 173.9 471.2 175.5 484C177.1 496.8 178.8 514.8 180.8 536.8C182.8 558.8 185.6 591.1 187.4 616C189.2 641 190.3 663 191.8 686.4C193.3 709.9 194.7 737.8 196.2 756.8C197.7 775.9 199.1 789.8 200.6 800.8C202.1 811.8 203.5 817.9 205 822.8C206.5 827.8 208.7 829.1 209.4 830.3" fill="none" stroke="#c5b2c6" stroke-width="2.3" stroke-linejoin="round" stroke-linecap="round"/>
<path d="M174.2 830.3C175.2 828.3 178.2 826.3 179.9 818.4C181.6 810.6 182.7 799.4 184.3 783.2C185.9 767.1 188 742.2 189.6 721.6C191.2 701.1 192.4 679.8 194 660C195.6 640.2 197.5 618.2 199.3 602.8C201.1 587.4 203.1 576.8 205 567.6C206.9 558.4 209.1 552.1 210.7 547.8C212.4 543.6 213.1 542.5 214.7 542.1C216.3 541.7 218.7 546.9 220.4 545.6C222.1 544.4 223.2 540.5 224.8 534.6C226.4 528.7 228.5 516.2 230.1 510.4C231.7 504.6 233.2 499.8 234.5 499.8C235.8 499.8 236.7 502 238 510.4C239.3 518.8 241 536.8 242.4 550C243.9 563.2 245.4 578.6 246.8 589.6C248.3 600.6 249.6 610.2 251.2 616C252.8 621.9 255 620.4 256.5 624.8C258 629.2 258.7 633.6 260 642.4C261.3 651.2 263 663.7 264.4 677.6C265.9 691.6 267.4 709.2 268.8 726C270.3 742.9 271.8 764.9 273.2 778.8C274.7 792.8 276.2 801.9 277.6 809.6C279.1 817.3 280.6 821.6 282 825C283.5 828.5 285.7 829.4 286.4 830.3L286.4 831L174.2 831Z" fill="#69766f" fill-opacity="0.21" stroke="none"/>
<path d="M174.2 830.3C175.2 828.3 178.2 826.3 179.9 818.4C181.6 810.6 182.7 799.4 184.3 783.2C185.9 767.1 188 742.2 189.6 721.6C191.2 701.1 192.4 679.8 194 660C195.6 640.2 197.5 618.2 199.3 602.8C201.1 587.4 203.1 576.8 205 567.6C206.9 558.4 209.1 552.1 210.7 547.8C212.4 543.6 213.1 542.5 214.7 542.1C216.3 541.7 218.7 546.9 220.4 545.6C222.1 544.4 223.2 540.5 224.8 534.6C226.4 528.7 228.5 516.2 230.1 510.4C231.7 504.6 233.2 499.8 234.5 499.8C235.8 499.8 236.7 502 238 510.4C239.3 518.8 241 536.8 242.4 550C243.9 563.2 245.4 578.6 246.8 589.6C248.3 600.6 249.6 610.2 251.2 616C252.8 621.9 255 620.4 256.5 624.8C258 629.2 258.7 633.6 260 642.4C261.3 651.2 263 663.7 264.4 677.6C265.9 691.6 267.4 709.2 268.8 726C270.3 742.9 271.8 764.9 273.2 778.8C274.7 792.8 276.2 801.9 277.6 809.6C279.1 817.3 280.6 821.6 282 825C283.5 828.5 285.7 829.4 286.4 830.3" fill="none" stroke="#69766f" stroke-width="2.3" stroke-linejoin="round" stroke-linecap="round"/>
<path d="M242.4 830.3C243.9 828.3 248.9 824.8 251.2 818.4C253.6 812.1 254.7 804.5 256.5 792C258.3 779.6 260.5 759 262.2 743.6C263.9 728.2 265.2 715 266.6 699.6C268.1 684.2 269.2 667.4 271 651.2C272.9 635.1 275.4 614.6 277.6 602.8C279.8 591.1 282 585.6 284.2 580.8C286.4 576 288.6 575.3 290.8 574.2C293 573.1 295.4 575.3 297.4 574.2C299.5 573.1 301.3 570.8 303.1 567.6C305 564.5 306.6 558.5 308.4 555.3C310.2 552.1 312.2 547.5 313.9 548.3C315.5 549 316.9 554 318.2 559.8C319.4 565.6 320.4 573.6 321.5 582.9C322.6 592.3 323.7 605.5 324.8 615.9C325.9 626.4 327 636.3 328.1 645.6C329.2 655 330.3 664.3 331.4 672C332.5 679.7 333.6 686 334.7 691.8C335.8 697.6 336.9 702.8 338 706.7C339.1 710.5 339.6 712.4 341.3 714.9C342.9 717.4 345.9 718.8 347.9 721.5C349.8 724.3 351.2 726.5 352.8 731.4C354.5 736.4 356.1 743.5 357.8 751.2C359.4 758.9 361.1 769.4 362.7 777.6C364.4 785.9 366 794.1 367.7 800.7C369.3 807.3 371 812.9 372.6 817.2C374.3 821.5 375.6 824.2 377.6 826.5C379.5 828.8 383.1 830.3 384.2 831.1L384.2 831L242.4 831Z" fill="#3b3f4d" fill-opacity="0.21" stroke="none"/>
<path d="M242.4 830.3C243.9 828.3 248.9 824.8 251.2 818.4C253.6 812.1 254.7 804.5 256.5 792C258.3 779.6 260.5 759 262.2 743.6C263.9 728.2 265.2 715 266.6 699.6C268.1 684.2 269.2 667.4 271 651.2C272.9 635.1 275.4 614.6 277.6 602.8C279.8 591.1 282 585.6 284.2 580.8C286.4 576 288.6 575.3 290.8 574.2C293 573.1 295.4 575.3 297.4 574.2C299.5 573.1 301.3 570.8 303.1 567.6C305 564.5 306.6 558.5 308.4 555.3C310.2 552.1 312.2 547.5 313.9 548.3C315.5 549 316.9 554 318.2 559.8C319.4 565.6 320.4 573.6 321.5 582.9C322.6 592.3 323.7 605.5 324.8 615.9C325.9 626.4 327 636.3 328.1 645.6C329.2 655 330.3 664.3 331.4 672C332.5 679.7 333.6 686 334.7 691.8C335.8 697.6 336.9 702.8 338 706.7C339.1 710.5 339.6 712.4 341.3 714.9C342.9 717.4 345.9 718.8 347.9 721.5C349.8 724.3 351.2 726.5 352.8 731.4C354.5 736.4 356.1 743.5 357.8 751.2C359.4 758.9 361.1 769.4 362.7 777.6C364.4 785.9 366 794.1 367.7 800.7C369.3 807.3 371 812.9 372.6 817.2C374.3 821.5 375.6 824.2 377.6 826.5C379.5 828.8 383.1 830.3 384.2 831.1" fill="none" stroke="#3b3f4d" stroke-width="2.3" stroke-linejoin="round" stroke-linecap="round"/>
<path d="M286.8 831.1C289 831.1 296.1 831.3 300 830.9C303.9 830.5 306.6 830.2 309.9 828.8C313.2 827.3 316.5 825.8 319.8 822.2C323.1 818.6 326.4 813.7 329.7 807.3C333 801 336.3 793 339.6 784.2C342.9 775.4 346.5 765 349.5 754.5C352.5 744.1 355 732.5 357.8 721.5C360.5 710.5 363.3 698.4 366 688.5C368.8 678.6 371.8 668.4 374.3 662.1C376.7 655.8 378.4 653.3 380.9 650.6C383.3 647.8 386.6 645.9 389.1 645.6C391.6 645.3 393.5 647 395.7 648.9C397.9 650.8 399.8 653.6 402.3 657.2C404.8 660.7 407.8 666.2 410.6 670.4C413.3 674.5 416.1 678.3 418.8 681.9C421.6 685.5 424.3 688.8 427.1 691.8C429.8 694.8 432.6 696.8 435.3 700.1C438.1 703.4 440.8 706.9 443.6 711.6C446.3 716.3 449.1 722.1 451.8 728.1C454.6 734.2 457.3 741 460.1 747.9C462.8 754.8 465.6 762.5 468.3 769.4C471.1 776.2 473.8 783.4 476.6 789.2C479.3 795 482.1 799.8 484.8 804C487.6 808.3 490.6 812.1 493.1 814.6C495.5 817.1 497.5 817.9 499.7 818.9C501.9 819.9 503.8 820.4 506.3 820.5C508.7 820.7 511.5 820.5 514.5 819.9C517.5 819.2 521.1 817.6 524.4 816.6C527.7 815.6 531 814.6 534.3 813.9C537.6 813.3 540.9 812.7 544.2 812.6C547.5 812.5 550.8 813 554.1 813.3C557.4 813.5 560.2 813.9 564 813.9C567.9 813.9 573.1 813.5 577.2 813.3C581.4 813 585.5 812.5 588.8 812.6C592.1 812.7 594 813 597 813.9C600.1 814.8 603.6 816.5 606.9 817.9C610.2 819.3 613.5 821.1 616.8 822.5C620.1 823.9 623.4 825.4 626.7 826.5C630 827.6 632.8 828.4 636.6 829.1C640.5 829.8 645.2 830.4 649.8 830.8C654.5 831.1 662.2 831 664.7 831.1L664.7 831L286.8 831Z" fill="#000000" fill-opacity="0.235" stroke="none"/>
<path d="M286.8 831.1C289 831.1 296.1 831.3 300 830.9C303.9 830.5 306.6 830.2 309.9 828.8C313.2 827.3 316.5 825.8 319.8 822.2C323.1 818.6 326.4 813.7 329.7 807.3C333 801 336.3 793 339.6 784.2C342.9 775.4 346.5 765 349.5 754.5C352.5 744.1 355 732.5 357.8 721.5C360.5 710.5 363.3 698.4 366 688.5C368.8 678.6 371.8 668.4 374.3 662.1C376.7 655.8 378.4 653.3 380.9 650.6C383.3 647.8 386.6 645.9 389.1 645.6C391.6 645.3 393.5 647 395.7 648.9C397.9 650.8 399.8 653.6 402.3 657.2C404.8 660.7 407.8 666.2 410.6 670.4C413.3 674.5 416.1 678.3 418.8 681.9C421.6 685.5 424.3 688.8 427.1 691.8C429.8 694.8 432.6 696.8 435.3 700.1C438.1 703.4 440.8 706.9 443.6 711.6C446.3 716.3 449.1 722.1 451.8 728.1C454.6 734.2 457.3 741 460.1 747.9C462.8 754.8 465.6 762.5 468.3 769.4C471.1 776.2 473.8 783.4 476.6 789.2C479.3 795 482.1 799.8 484.8 804C487.6 808.3 490.6 812.1 493.1 814.6C495.5 817.1 497.5 817.9 499.7 818.9C501.9 819.9 503.8 820.4 506.3 820.5C508.7 820.7 511.5 820.5 514.5 819.9C517.5 819.2 521.1 817.6 524.4 816.6C527.7 815.6 531 814.6 534.3 813.9C537.6 813.3 540.9 812.7 544.2 812.6C547.5 812.5 550.8 813 554.1 813.3C557.4 813.5 560.2 813.9 564 813.9C567.9 813.9 573.1 813.5 577.2 813.3C581.4 813 585.5 812.5 588.8 812.6C592.1 812.7 594 813 597 813.9C600.1 814.8 603.6 816.5 606.9 817.9C610.2 819.3 613.5 821.1 616.8 822.5C620.1 823.9 623.4 825.4 626.7 826.5C630 827.6 632.8 828.4 636.6 829.1C640.5 829.8 645.2 830.4 649.8 830.8C654.5 831.1 662.2 831 664.7 831.1" fill="none" stroke="#000000" stroke-width="2.7" stroke-linejoin="round" stroke-linecap="round"/>
<g class="t" text-anchor="end">
<text x="49.3" y="782.3">10</text>
<text x="49.3" y="728.6">20</text>
<text x="49.3" y="674.9">30</text>
<text x="49.3" y="621.2">40</text>
<text x="49.3" y="567.5">50</text>
<text x="49.3" y="513.8">60</text>
<text x="49.3" y="460.1">70</text>
</g>
<g class="t" text-anchor="middle">
<text x="241.8" y="852">0.05</text>
<text x="428.6" y="852">0.10</text>
<text x="615.4" y="852">0.15</text>
</g>
<text class="l" text-anchor="middle" transform="translate(15.5 645) rotate(-90)" textLength="84" lengthAdjust="spacingAndGlyphs">Frequency</text>
<text class="l" text-anchor="middle" x="355.1" y="870" textLength="253.7" lengthAdjust="spacingAndGlyphs">Transient Microstate Percentage</text>
<text class="cap" text-anchor="middle" x="366.1" y="902.8">(c)</text>
</g>
<g id="panel-d">
<line x1="792" y1="786" x2="1396" y2="786" stroke="#c2c2c2" stroke-width="1"/>
<path d="M803.8 786v6.5M831.9 786v6.5M834.3 786v6.5M862.4 786v6.5M864.9 786v6.5M893 786v6.5M895.4 786v6.5M923.5 786v6.5M926 786v6.5M954.1 786v6.5M956.5 786v6.5M984.6 786v6.5M987.1 786v6.5M1015.2 786v6.5M1017.6 786v6.5M1045.8 786v6.5M1048.2 786v6.5M1076.3 786v6.5M1078.8 786v6.5M1106.8 786v6.5M1109.3 786v6.5M1137.4 786v6.5M1139.8 786v6.5M1167.9 786v6.5M1170.4 786v6.5M1198.5 786v6.5M1201 786v6.5M1229 786v6.5M1231.5 786v6.5M1259.6 786v6.5M1262 786v6.5M1290.1 786v6.5M1292.6 786v6.5M1320.7 786v6.5M1323.2 786v6.5M1351.2 786v6.5M1353.7 786v6.5M1381.8 786v6.5" stroke="#c8c8c8" stroke-width="1" fill="none"/>
<g fill="#c1c1c1" stroke="#828282" stroke-width="0.9"><rect x="803.8" y="631.1" width="28.1" height="154.9"/><rect x="834.3" y="616.7" width="28.1" height="169.3"/><rect x="864.9" y="599.2" width="28.1" height="186.8"/><rect x="895.4" y="615.7" width="28.1" height="170.3"/><rect x="926" y="566.6" width="28.1" height="219.4"/><rect x="956.5" y="565" width="28.1" height="221"/><rect x="987.1" y="573.1" width="28.1" height="212.9"/><rect x="1017.6" y="573.4" width="28.1" height="212.6"/><rect x="1048.2" y="548.8" width="28.1" height="237.2"/><rect x="1078.8" y="574" width="28.1" height="212"/><rect x="1109.3" y="567.3" width="28.1" height="218.7"/><rect x="1139.8" y="577.3" width="28.1" height="208.7"/><rect x="1170.4" y="538.5" width="28.1" height="247.5"/><rect x="1201" y="540.8" width="28.1" height="245.2"/><rect x="1231.5" y="539.5" width="28.1" height="246.5"/><rect x="1262" y="561.4" width="28.1" height="224.6"/><rect x="1292.6" y="535.4" width="28.1" height="250.6"/><rect x="1323.2" y="535.4" width="28.1" height="250.6"/><rect x="1353.7" y="562.9" width="28.1" height="223.1"/></g>
<path d="M817.8 619.2V642.5M809.8 619.2h16M809.8 642.5h16M848.4 601V632.1M840.4 601h16M840.4 632.1h16M878.9 582.2V615.7M870.9 582.2h16M870.9 615.7h16M909.5 603.5V628.1M901.5 603.5h16M901.5 628.1h16M940 551.6V581.2M932 551.6h16M932 581.2h16M970.6 548.1V582.5M962.6 548.1h16M962.6 582.5h16M1001.1 559V586.8M993.1 559h16M993.1 586.8h16M1031.7 554.9V592.4M1023.7 554.9h16M1023.7 592.4h16M1062.2 531.3V566M1054.2 531.3h16M1054.2 566h16M1092.8 555.7V592.2M1084.8 555.7h16M1084.8 592.2h16M1123.3 535.4V599.9M1115.3 535.4h16M1115.3 599.9h16M1153.9 559.8V595.1M1145.9 559.8h16M1145.9 595.1h16M1184.5 521.8V555.5M1176.5 521.8h16M1176.5 555.5h16M1215 529.2V552.4M1207 529.2h16M1207 552.4h16M1245.5 502.2V576.8M1237.5 502.2h16M1237.5 576.8h16M1276.1 554.4V568.1M1268.1 554.4h16M1268.1 568.1h16M1306.6 487.8V582.2M1298.6 487.8h16M1298.6 582.2h16M1337.2 473.2V597.1M1329.2 473.2h16M1329.2 597.1h16M1367.7 550.6V575M1359.7 550.6h16M1359.7 575h16" stroke="#141414" stroke-width="1.8" fill="none"/>
<g stroke="#6e6e6e" stroke-width="1.2" fill="none"><line x1="779.7" y1="457" x2="779.7" y2="792.5"/><path d="M779.7 786.5h7.5M779.7 773.3h4.2M779.7 760.2h4.2M779.7 747h4.2M779.7 733.9h4.2M779.7 720.7h7.5M779.7 707.5h4.2M779.7 694.4h4.2M779.7 681.2h4.2M779.7 668.1h4.2M779.7 654.9h7.5M779.7 641.7h4.2M779.7 628.6h4.2M779.7 615.4h4.2M779.7 602.3h4.2M779.7 589.1h7.5M779.7 575.9h4.2M779.7 562.8h4.2M779.7 549.6h4.2M779.7 536.5h4.2M779.7 523.3h7.5M779.7 510.1h4.2M779.7 497h4.2M779.7 483.8h4.2M779.7 470.7h4.2M779.7 457.5h7.5"/></g>
<g class="t" text-anchor="end" font-size="15.4">
<text style="font-size:16.6px" x="774.6" y="791.5" textLength="36" lengthAdjust="spacingAndGlyphs">0.00</text>
<text style="font-size:16.6px" x="774.6" y="725.7" textLength="36" lengthAdjust="spacingAndGlyphs">0.01</text>
<text style="font-size:16.6px" x="774.6" y="659.9" textLength="36" lengthAdjust="spacingAndGlyphs">0.02</text>
<text style="font-size:16.6px" x="774.6" y="594.1" textLength="36" lengthAdjust="spacingAndGlyphs">0.03</text>
<text style="font-size:16.6px" x="774.6" y="528.3" textLength="36" lengthAdjust="spacingAndGlyphs">0.04</text>
<text style="font-size:16.6px" x="774.6" y="462.5" textLength="36" lengthAdjust="spacingAndGlyphs">0.05</text>
</g>
<g class="t" text-anchor="end">
<text style="font-size:18.7px" transform="translate(823.7 790.6) rotate(-90) scale(1 1.17)" textLength="47" lengthAdjust="spacingAndGlyphs">1,000</text>
<text style="font-size:18.7px" transform="translate(854.3 790.6) rotate(-90) scale(1 1.17)" textLength="47" lengthAdjust="spacingAndGlyphs">1,500</text>
<text style="font-size:18.7px" transform="translate(884.8 790.6) rotate(-90) scale(1 1.17)" textLength="47" lengthAdjust="spacingAndGlyphs">2,000</text>
<text style="font-size:18.7px" transform="translate(915.4 790.6) rotate(-90) scale(1 1.17)" textLength="47" lengthAdjust="spacingAndGlyphs">2,500</text>
<text style="font-size:18.7px" transform="translate(945.9 790.6) rotate(-90) scale(1 1.17)" textLength="47" lengthAdjust="spacingAndGlyphs">3,000</text>
<text style="font-size:18.7px" transform="translate(976.5 790.6) rotate(-90) scale(1 1.17)" textLength="47" lengthAdjust="spacingAndGlyphs">3,500</text>
<text style="font-size:18.7px" transform="translate(1007 790.6) rotate(-90) scale(1 1.17)" textLength="47" lengthAdjust="spacingAndGlyphs">4,000</text>
<text style="font-size:18.7px" transform="translate(1037.6 790.6) rotate(-90) scale(1 1.17)" textLength="47" lengthAdjust="spacingAndGlyphs">4,500</text>
<text style="font-size:18.7px" transform="translate(1068.2 790.6) rotate(-90) scale(1 1.17)" textLength="47" lengthAdjust="spacingAndGlyphs">5,000</text>
<text style="font-size:18.7px" transform="translate(1098.7 790.6) rotate(-90) scale(1 1.17)" textLength="47" lengthAdjust="spacingAndGlyphs">5,500</text>
<text style="font-size:18.7px" transform="translate(1129.2 790.6) rotate(-90) scale(1 1.17)" textLength="47" lengthAdjust="spacingAndGlyphs">6,000</text>
<text style="font-size:18.7px" transform="translate(1159.8 790.6) rotate(-90) scale(1 1.17)" textLength="47" lengthAdjust="spacingAndGlyphs">6,500</text>
<text style="font-size:18.7px" transform="translate(1190.4 790.6) rotate(-90) scale(1 1.17)" textLength="47" lengthAdjust="spacingAndGlyphs">7,000</text>
<text style="font-size:18.7px" transform="translate(1220.9 790.6) rotate(-90) scale(1 1.17)" textLength="47" lengthAdjust="spacingAndGlyphs">7,500</text>
<text style="font-size:18.7px" transform="translate(1251.5 790.6) rotate(-90) scale(1 1.17)" textLength="47" lengthAdjust="spacingAndGlyphs">8,000</text>
<text style="font-size:18.7px" transform="translate(1282 790.6) rotate(-90) scale(1 1.17)" textLength="47" lengthAdjust="spacingAndGlyphs">8,500</text>
<text style="font-size:18.7px" transform="translate(1312.5 790.6) rotate(-90) scale(1 1.17)" textLength="47" lengthAdjust="spacingAndGlyphs">9,000</text>
<text style="font-size:18.7px" transform="translate(1343.1 790.6) rotate(-90) scale(1 1.17)" textLength="47" lengthAdjust="spacingAndGlyphs">9,500</text>
<text style="font-size:18.7px" transform="translate(1373.6 790.6) rotate(-90) scale(1 1.17)" textLength="57.5" lengthAdjust="spacingAndGlyphs">10,000</text>
</g>
<text class="l" text-anchor="middle" transform="translate(727 630.7) rotate(-90) scale(1 1.16)" style="font-size:15.7px" textLength="227" lengthAdjust="spacingAndGlyphs">Transient Microstate Percentage</text>
<text class="l" text-anchor="middle" x="1065" y="864.8" style="font-size:15.8px" textLength="92.5" lengthAdjust="spacingAndGlyphs">Window Size</text>
<text class="cap" text-anchor="middle" x="1102" y="903.2">(d)</text>
</g>
</svg></body></html>
